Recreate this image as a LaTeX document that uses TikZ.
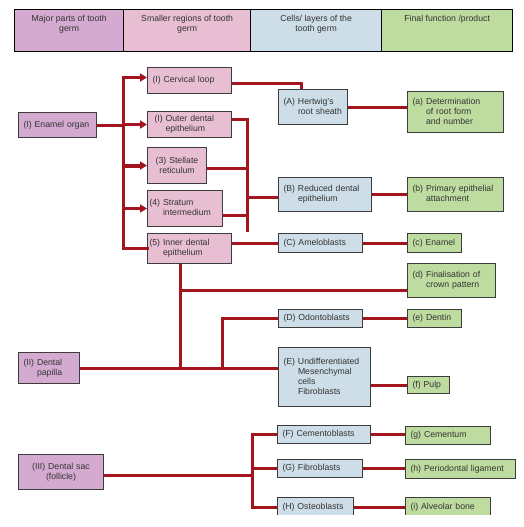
\documentclass[tikz,border=0pt]{standalone}
\usepackage{fontspec}
\setmainfont{Liberation Sans}
\usetikzlibrary{arrows.meta}
\definecolor{partcol}{HTML}{D4AAD0}
\definecolor{regioncol}{HTML}{E8BED2}
\definecolor{cellcol}{HTML}{CDDEE8}
\definecolor{endcol}{HTML}{BEDCA0}
\definecolor{linkcol}{HTML}{A3141F}
\definecolor{edgecol}{HTML}{3C3C3C}
\definecolor{txtcol}{HTML}{333333}
\begin{document}
\begin{tikzpicture}[x=1pt, y=-1pt,
		box/.style = {draw=edgecol, line width=1pt, anchor=north west, align=left, inner xsep=5pt, inner ysep=2pt, text=txtcol, font=\fontsize{8.7pt}{10pt}\selectfont},
		part/.style = {box, fill=partcol},
		region/.style = {box, fill=regioncol},
		cell/.style = {box, fill=cellcol},
		final/.style = {box, fill=endcol},
		head/.style = {draw=black, line width=1.3pt, anchor=north west, minimum height=42pt, inner sep=0pt},
		htext/.style = {anchor=north, align=center, inner ysep=6pt, text=txtcol, font=\fontsize{8.7pt}{10pt}\selectfont},
		link/.style = {draw=linkcol, line width=3pt},
		tip/.style = {link, -{Triangle[length=7pt, width=8pt]}}]
		\path[use as bounding box, fill=white] (0,0) rectangle (524,527);
		\clip (0,0) rectangle (524,514);
		\node[head, fill=partcol, minimum width=109pt] (h1) at (14,9) {};
		\node[head, fill=regioncol, minimum width=127pt] (h2) at (123,9) {};
		\node[head, fill=cellcol, minimum width=131pt] (h3) at (250,9) {};
		\node[head, fill=endcol, minimum width=131pt] (h4) at (381,9) {};
		\node[htext] at (h1.north) {Major parts of tooth\\germ};
		\node[htext] at (h2.north) {Smaller regions of tooth\\germ};
		\node[htext] at (h3.north) {Cells/ layers of the\\tooth germ};
		\node[htext] at (h4.north) {Final function /product};
		\node[part, text width=68pt, minimum height=25pt] (1) at (18,112) {(I) Enamel organ};
		\node[part, text width=51pt, minimum height=31pt] (2) at (18,352) {(II) Dental\\\phantom{(II) }papilla};
		\node[part, text width=75pt, minimum height=35pt, align=center] (3) at (18,454) {(III) Dental sac\\(follicle)};
		\node[region, text width=74pt, minimum height=26pt] (4) at (147,67) {(I) Cervical loop};
		\node[region, text width=74pt, minimum height=26pt] (5) at (147,111) {\hspace*{2pt}(I) Outer dental\\\hspace*{13pt}epithelium};
		\node[region, text width=49pt, minimum height=36pt, align=center] (6) at (147,147) {(3) Stellate\\reticulum};
		\node[region, text width=71pt, minimum height=36pt, inner xsep=2pt] (7) at (147,190) {(4) Stratum\\\phantom{(4) }intermedium};
		\node[region, text width=80pt, minimum height=30pt, inner xsep=2pt] (8) at (147,233) {(5) Inner dental\\\phantom{(5) }epithelium};
		\node[cell, text width=59pt, minimum height=35pt] (9) at (278,89) {(A) Hertwig's\\\phantom{(A) }root sheath};
		\node[cell, text width=83pt, minimum height=34pt] (10) at (278,177) {(B) Reduced dental\\\phantom{(B) }epithelium};
		\node[cell, text width=74pt, minimum height=19pt] (11) at (278,233) {(C) Ameloblasts};
		\node[cell, text width=74pt, minimum height=18pt] (12) at (278,309) {(D) Odontoblasts};
		\node[cell, text width=82pt, minimum height=59pt] (13) at (278,347) {(E) Undifferentiated\\\phantom{(E) }Mesenchymal\\\phantom{(E) }cells\\\phantom{(E) }Fibroblasts};
		\node[cell, text width=83pt, minimum height=18pt] (14) at (277,425) {(F) Cementoblasts};
		\node[cell, text width=75pt, minimum height=18pt] (15) at (277,459) {(G) Fibroblasts};
		\node[cell, text width=66pt, minimum height=20pt] (16) at (277,497) {(H) Osteoblasts};
		\node[final, text width=86pt, minimum height=41pt] (17) at (407,91) {(a) Determination\\\phantom{(a) }of root form\\\phantom{(a) }and number};
		\node[final, text width=86pt, minimum height=34pt] (18) at (407,177) {(b) Primary epithelial\\\phantom{(b) }attachment};
		\node[final, text width=44pt, minimum height=19pt] (19) at (407,233) {(c) Enamel};
		\node[final, text width=78pt, minimum height=34pt] (20) at (407,263) {(d) Finalisation of\\\phantom{(d) }crown pattern};
		\node[final, text width=44pt, minimum height=18pt] (21) at (407,309) {(e) Dentin};
		\node[final, text width=32pt, minimum height=17pt] (22) at (407,376) {(f) Pulp};
		\node[final, text width=75pt, minimum height=18pt] (23) at (405,426) {(g) Cementum};
		\node[final, text width=100pt, minimum height=19pt] (24) at (405,459) {(h) Periodontal ligament};
		\node[final, text width=75pt, minimum height=20pt] (25) at (405,497) {(i) Alveolar bone};
		\coordinate (t) at (123,0);
		\coordinate (r) at (247,232);
		\coordinate (p) at ([xshift=-9pt]8.south);
		\coordinate (o) at (222,0);
		\coordinate (s) at (252,0);
		\draw[link] (1.east) -- (t |- 1.east);
		\draw[link, line cap=rect] (8.west) -| ([yshift=3pt]t |- 4.west);
		\draw[tip] ([yshift=3pt]t |- 4.west) -- ([yshift=3pt]4.west);
		\draw[tip] (t |- 5.west) -- (5.west);
		\draw[tip, line width=4pt] (t |- 6.west) -- (6.west);
		\draw[tip] (t |- 7.west) -- (7.west);
		\draw[link] ([yshift=-3pt]4.east) -| ([xshift=-12pt]9.north);
		\draw[link] (9.east) -- (9.east -| 17.west);
		\draw[link] ([yshift=5pt]5.east) -| (r);
		\draw[link] ([yshift=-3pt]6.east) -- ([yshift=-3pt]6.east -| r);
		\draw[link] ([yshift=-7pt]7.east) -- ([yshift=-7pt]7.east -| r);
		\draw[link] ([yshift=-3pt]r |- 10.west) -- ([yshift=-3pt]10.west);
		\draw[link] (10.east) -- (10.east -| 18.west);
		\draw[link] ([yshift=5pt]8.east) -- ([yshift=5pt]8.east -| 11.west);
		\draw[link] (11.east) -- (11.east -| 19.west);
		\draw[link] (p) -- (p |- 2.east);
		\draw[link] (2.east) -- (2.east -| 13.west);
		\draw[link] ([yshift=-10pt]20.west -| p) -- ([yshift=-10pt]20.west);
		\draw[link] (o |- 2.east) |- (12.west);
		\draw[link] (12.east) -- (12.east -| 21.west);
		\draw[link] (13.east |- 22.west) -- (22.west);
		\draw[link] ([yshift=-3pt]3.east) -- ([yshift=-3pt]s |- 3.east);
		\draw[link] (14.west) -| (s |- 16.west) -- (16.west);
		\draw[link] (s |- 15.west) -- (15.west);
		\draw[link] (14.east) -- (14.east -| 23.west);
		\draw[link] (15.east) -- (15.east -| 24.west);
		\draw[link] (16.east) -- (16.east -| 25.west);
	\end{tikzpicture}
\end{document}
